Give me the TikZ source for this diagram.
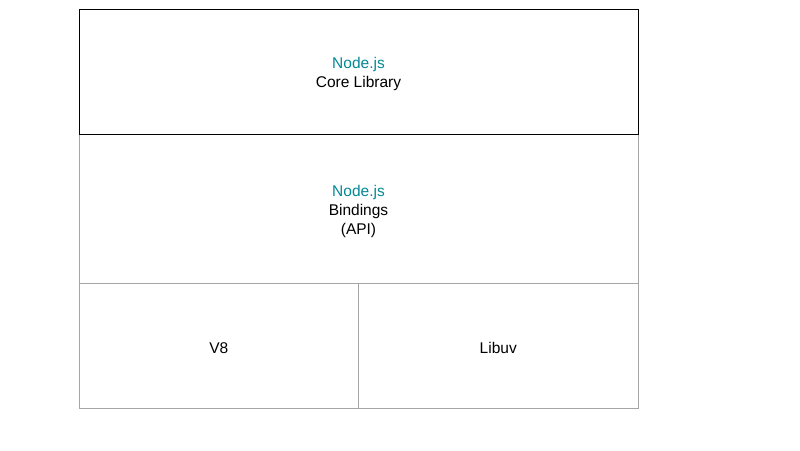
\documentclass[tikz,border=0pt]{standalone}
\usepackage{fontspec}
\setmainfont{Liberation Sans}
\definecolor{nodeteal}{RGB}{0,137,150}
\definecolor{layergray}{RGB}{165,165,165}
\usetikzlibrary{positioning}
\newcommand{\lifttext}{\rule{0pt}{17pt}}

\begin{document}
\begin{tikzpicture}[x=1pt, y=-1pt,
    layer/.style={draw=layergray, line width=1pt, outer sep=0pt, inner sep=0pt,
      align=center, font=\fontsize{15.5}{19}\selectfont},
    toplayer/.style={layer, draw=black}]
  \useasboundingbox (0,0) rectangle (800,450);

  \node [layer, minimum width=559pt, minimum height=149pt] (bindings) at (358.5, 208.5)
    {\lifttext\textcolor{nodeteal}{Node.js}\\Bindings\\(API)};

  \node [layer, minimum width=279.5pt, minimum height=125pt, below right=0pt and 0pt of bindings.south west, anchor=north west] (v8) {\lifttext V8};
  \node [layer, minimum width=279.5pt, minimum height=125pt, right=0pt of v8] (libuv) {\lifttext Libuv};

  \node [toplayer, minimum width=559pt, minimum height=125pt, above=0pt of bindings] (core)
    {\lifttext\textcolor{nodeteal}{Node.js}\\Core Library};
\end{tikzpicture}
\end{document}
